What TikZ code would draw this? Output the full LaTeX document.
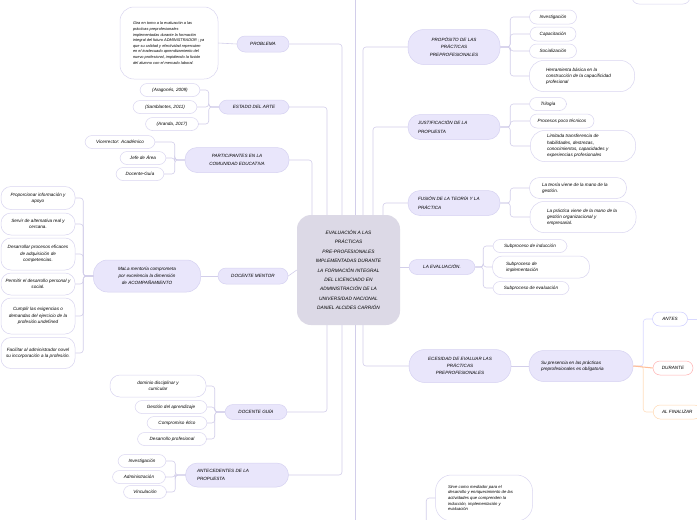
\documentclass[tikz,border=0pt]{standalone}
\usepackage{fontspec}
\setmainfont{Liberation Sans}
\begin{document}
\begin{tikzpicture}[x=1pt,y=-1pt,
  every node/.style={font=\fontsize{4.6}{6.2}\selectfont\itshape, align=flush center, inner sep=2pt},
  main/.style={draw=lav, fill=lavf, rounded corners=8pt, line width=0.5pt},
  leaf/.style={draw=lavb, fill=white, rounded corners=7pt, line width=0.5pt},
  cen/.style={draw=none, fill=cenf, rounded corners=14pt},
  con/.style={draw=lavl, line width=0.6pt, rounded corners=3pt}]
\definecolor{lav}{HTML}{D6D2F2}
\definecolor{lavf}{HTML}{E9E6FB}
\definecolor{lavb}{HTML}{D9D5F0}
\definecolor{lavl}{HTML}{D2CEEA}
\definecolor{cenf}{HTML}{DCD9E6}
\useasboundingbox (0,0) rectangle (697,520);
\clip (0,0) rectangle (697,520);
\fill[white] (0,0) rectangle (697,520);
\draw[lavl, line width=0.6pt] (355,0) -- (355,520);

\node[cen, minimum width=103pt, minimum height=110pt, text width=72pt, font=\fontsize{4.8}{9.4}\selectfont\itshape] (c) at (348.5,270)
 {EVALUACIÓN A LAS PRÁCTICAS PRE-PROFESIONALES IMPLEMENTADAS DURANTE LA FORMACIÓN INTEGRAL DEL LICENCIADO EN ADMINISTRACIÓN DE LA UNIVERSIDAD NACIONAL DANIEL ALCIDES CARRIÓN};

% left side
\node[main, minimum width=52pt, minimum height=16pt] (prob) at (263,44) {PROBLEMA};
\node[leaf, minimum width=98pt, minimum height=72pt, text width=72pt, align=flush left, rounded corners=14pt, font=\fontsize{3.9}{5.6}\selectfont\itshape] (probt) at (169,43) {Gira en torno a la evaluación a las prácticas preprofesionales implementadas durante la formación integral del futuro ADMINISTRADOR ; ya que su calidad y efectividad repercuten en el inadecuado aprendizamiento del nuevo profesional, impidiendo la fusión del alumno con el mercado laboral.};
\node[main, minimum width=70pt, minimum height=14pt] (est) at (254,107) {ESTADO DEL ARTE};
\node[leaf, minimum width=60pt, minimum height=13pt] (e1) at (170,90) {(Aragonés, 2009)};
\node[leaf, minimum width=64pt, minimum height=13pt] (e2) at (165,107) {(Samblantes, 2011)};
\node[leaf, minimum width=53pt, minimum height=13pt] (e3) at (172,124) {(Aranda, 2017)};
\node[main, minimum width=104pt, minimum height=25pt, rounded corners=12pt] (part) at (237,160) {PARTICIPANTES EN LA\\[2pt]COMUNIDAD EDUCATIVA};
\node[leaf, minimum width=70pt, minimum height=13pt] (p1) at (120,142) {Vicerrector: Académico};
\node[leaf, minimum width=46pt, minimum height=13pt] (p2) at (143,158) {Jefe de Área};
\node[leaf, minimum width=48pt, minimum height=13pt] (p3) at (140,174) {Docente-Guía};
\node[main, minimum width=70pt, minimum height=16pt] (men) at (253,276) {DOCENTE MENTOR};
\node[main, minimum width=107pt, minimum height=32pt, rounded corners=14pt] (mela) at (147,276) {MaLa mentoría comprometa\\[1pt]por excelencia la dimensión\\[1pt]de ACOMPAÑAMIENTO};
\tikzset{ml/.style={leaf, minimum width=74pt, text width=66pt, rounded corners=10pt}}
\node[ml, minimum height=23pt] (m1) at (38,198) {Proporcionar información y apoyo};
\node[ml, minimum height=22pt] (m2) at (38,224) {Servir de alternativa real y cercana.};
\node[ml, minimum height=32pt] (m3) at (38,254) {Desarrollar procesos eficaces de adquisición de competencias.};
\node[ml, minimum height=22pt] (m4) at (38,284) {Permitir el desarrollo personal y social.};
\node[ml, minimum height=36pt] (m5) at (38,316) {Cumplir las exigencias o demandas del ejercicio de la profesión.undefined};
\node[ml, minimum height=31pt] (m6) at (38,353) {Facilitar al administrador novel su incorporación a la profesión.};
\node[main, minimum width=62pt, minimum height=15pt] (gui) at (256,412) {DOCENTE GUÍA};
\node[leaf, minimum width=96pt, minimum height=22pt, rounded corners=10pt] (g1) at (158,386) {dominio disciplinar y\\curricular};
\node[leaf, minimum width=72pt, minimum height=13pt] (g2) at (171,407) {Gestión del aprendizaje};
\node[leaf, minimum width=60pt, minimum height=13pt] (g3) at (177,423) {Compromiso ético};
\node[leaf, minimum width=69pt, minimum height=13pt] (g4) at (172,439) {Desarrollo profesional};
\node[main, minimum width=103pt, minimum height=24pt, rounded corners=12pt, text width=80pt, align=flush left] (ant) at (237,475) {ANTECEDENTES DE LA\\[2pt]PROPUESTA};
\node[leaf, minimum width=48pt, minimum height=13pt] (a1) at (142,461) {Investigación};
\node[leaf, minimum width=53pt, minimum height=13pt] (a2) at (139,477) {Administración};
\node[leaf, minimum width=43pt, minimum height=13pt] (a3) at (145,492) {Vinculación};

% right side
\node[main, minimum width=92pt, minimum height=35pt, rounded corners=16pt] (pro) at (454,47) {PROPÓSITO DE LAS\\[1pt]PRÁCTICAS\\[1pt]PREPROFESIONALES};
\node[leaf, minimum width=47pt, minimum height=14pt] (r1) at (553,17) {Investigación};
\node[leaf, minimum width=46pt, minimum height=14pt] (r2) at (553,34) {Capacitación};
\node[leaf, minimum width=47pt, minimum height=14pt] (r3) at (553,51) {Socialización};
\node[leaf, minimum width=105pt, minimum height=31pt, text width=72pt, align=flush left, rounded corners=14pt] (r4) at (582,76) {Herramienta básica en la construcción de la capacificidad profesional};
\node[main, minimum width=92pt, minimum height=25pt, rounded corners=12pt, text width=72pt, align=flush left] (jus) at (454,127) {JUSTIFICACIÓN DE LA\\[2pt]PROPUESTA};
\node[leaf, minimum width=37pt, minimum height=13pt] (j1) at (548,104) {Trilogía};
\node[leaf, minimum width=64pt, minimum height=14pt] (j2) at (562,121) {Procesos poco técnicos};
\node[leaf, minimum width=105pt, minimum height=31pt, text width=72pt, align=flush left, rounded corners=14pt] (j3) at (583,146) {Limitada transferencia de habilidades, destrezas, conocimientos, capacidades y experiencias profesionales};
\node[main, minimum width=92pt, minimum height=25pt, rounded corners=12pt, text width=72pt, align=flush left] (fus) at (454,203) {FUSIÓN DE LA TEORÍA Y LA\\[2pt]PRÁCTICA};
\node[leaf, minimum width=97pt, minimum height=21pt, text width=72pt, align=flush left, rounded corners=10pt] (f1) at (578,188) {La teoría viene de la mano de la gestión.};
\node[leaf, minimum width=106pt, minimum height=31pt, text width=72pt, align=flush left, rounded corners=14pt] (f2) at (583,217) {La práctica viene de la mano de la gestión organizacional y empresarial.};
\node[main, minimum width=66pt, minimum height=15pt] (eva) at (442,267) {LA EVALUACIÓN.};
\node[leaf, minimum width=74pt, minimum height=13pt] (v1) at (530,246) {Subproceso de inducción};
\node[leaf, minimum width=97pt, minimum height=22pt, text width=70pt, align=flush left, rounded corners=10pt] (v2) at (541,267) {Subproceso de\\implementación};
\node[leaf, minimum width=76pt, minimum height=13pt] (v3) at (531,288) {Subproceso de evaluación};
\node[main, minimum width=102pt, minimum height=33pt, rounded corners=16pt] (nec) at (460,366) {ECESIDAD DE EVALUAR LAS\\[1pt]PRÁCTICAS\\[1pt]PREPROFESIONALES};
\node[main, minimum width=104pt, minimum height=31pt, rounded corners=15pt, text width=80pt, align=flush left] (su) at (581,366) {Su presencia en las prácticas preprofesionales es obligatoria};
\node[leaf, draw=blue!20, minimum width=35pt, minimum height=14pt] (an) at (670,319) {ANTES};
\node[leaf, draw=red!30, minimum width=40pt, minimum height=14pt] (du) at (673,368) {DURANTE};
\node[leaf, draw=orange!30, minimum width=48pt, minimum height=14pt, anchor=west] (fi) at (653,412) {AL FINALIZAR};
\node[leaf, minimum width=97pt, minimum height=46pt, text width=72pt, align=flush left, rounded corners=16pt, font=\fontsize{4.2}{5.6}\selectfont\itshape] (bot) at (484,498) {Sirve como mediador para el desarrollo y enriquecimiento de las actividades que comprenden la inducción, implementación y evaluación};
\node[leaf, minimum width=58pt, minimum height=12pt] (tr) at (661,-2) {};

% connectors left
\draw[con] (prob.east) -| ([xshift=-6.5pt]c.north);
\draw[con] (est.east) -| ([xshift=-21.5pt]c.north);
\draw[con] (part.east) -| ([xshift=-36.5pt]c.north);
\draw[con] (men.east) -- (c.west);
\draw[con] (gui.east) -| ([xshift=-21.5pt]c.south);
\draw[con] (ant.east) -| ([xshift=-6.5pt]c.south);
\draw[con] (probt.east) -- (prob.west);
\draw[con] (mela.east) -- (men.west);
\foreach \k in {e1,e2,e3} \draw[con] (est.west) -- +(-10,0) |- (\k.east);
\foreach \k in {p1,p2,p3} \draw[con] (part.west) -- +(-10,0) |- (\k.east);
\foreach \k in {m1,m2,m3,m4,m5,m6} \draw[con] (mela.west) -- +(-10,0) |- (\k.east);
\foreach \k in {g1,g2,g3,g4} \draw[con] (gui.west) -- +(-10,0) |- (\k.east);
\foreach \k in {a1,a2,a3} \draw[con] (ant.west) -- +(-10,0) |- (\k.east);
% right
\draw[con] (pro.west) -| ([xshift=14.5pt]c.north);
\draw[con] (jus.west) -| ([xshift=24.5pt]c.north);
\draw[con] (fus.west) -| ([xshift=34.5pt]c.north);
\draw[con] (eva.west) -- (eva.west -| c.east);
\draw[con] (nec.west) -| ([xshift=14.5pt]c.south);
\draw[con] (nec.east) -- (su.west);
\foreach \k in {r1,r2,r3,r4} \draw[con] (pro.east) -- +(10,0) |- (\k.west);
\foreach \k in {j1,j2,j3} \draw[con] (jus.east) -- +(10,0) |- (\k.west);
\foreach \k in {f1,f2} \draw[con] (fus.east) -- +(10,0) |- (\k.west);
\foreach \k in {v1,v2,v3} \draw[con] (eva.east) -- +(8,0) |- (\k.west);
\draw[con, draw=blue!15] (su.east) -- +(10,0) |- (an.west);
\draw[con, draw=orange!25] (su.east) -- +(10,0) |- (fi.west);
\draw[con, draw=red!30!orange!40, line width=1pt] (su.east) -- (du.west);
\draw[con, draw=blue!15] (an.east) -- +(10,0);
\draw[con] (bot.west) -- +(-9,0) -- +(-9,30);
\end{tikzpicture}
\end{document}
